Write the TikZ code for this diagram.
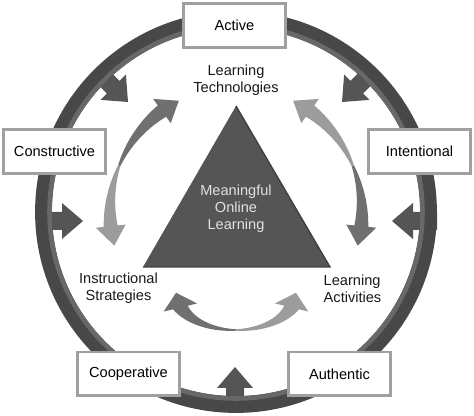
\documentclass[tikz,border=0pt]{standalone}
\usepackage{fontspec}
\setmainfont{Liberation Sans}
\usetikzlibrary{positioning}
\definecolor{ringgray}{RGB}{72,72,72}
\definecolor{ringlite}{RGB}{104,104,104}
\definecolor{boxgray}{RGB}{160,160,160}
\definecolor{coregray}{RGB}{85,85,85}
\definecolor{swdark}{RGB}{112,112,112}
\definecolor{swlite}{RGB}{156,156,156}
\tikzset{
  qualbox/.style={draw=boxgray, fill=white, line width=1.7pt,
                  minimum width=2.04cm, minimum height=0.88cm,
                  font=\fontsize{8.3}{9.6}\selectfont},
  cornerlbl/.style={align=center, font=\fontsize{8.3}{9.6}\selectfont, text=black!90},
  corelbl/.style={align=center, font=\fontsize{8.3}{9.6}\selectfont, text=black!12},
  blockarrow/.style={fill=coregray},
}
% block arrow: tip x, tip y, direction
\newcommand{\ringarrow}[3]{\fill[blockarrow, shift={(#1,#2)}, rotate=#3]
  (0,0) -- (-21,18) -- (-21,9) -- (-45,9) -- (-45,-9) -- (-21,-9) -- (-21,-18) -- cycle;}
% tapered curved arrow: from angle, to angle, colour, radius
\newcommand{\SH}{9}   % head length (deg)
\newcommand{\SW}{7}   % band half width at head
\newcommand{\SK}{15}  % head half width
\newcommand{\swoosh}[4]{%
  \pgfmathsetmacro{\hb}{#2-\SH*sign(#2-#1)}
  \fill[#3] plot[domain=0:1, samples=30] ({#1+\x*(\hb-#1)}:{#4+1.2+\x*(\SW-1.2)})
    -- (\hb:#4+\SK) -- (#2:#4) -- (\hb:#4-\SK)
    -- plot[domain=1:0, samples=30] ({#1+\x*(\hb-#1)}:{#4-1.2-\x*(\SW-1.2)}) -- cycle;}

\begin{document}
\begin{tikzpicture}[x=0.02cm, y=0.02cm]
  \useasboundingbox (0,0) rectangle (474,416);

  % arrows from the ring
  \ringarrow{128}{314}{-45}
  \ringarrow{342}{314}{-135}
  \ringarrow{83}{195}{0}
  \ringarrow{392}{195}{180}
  \ringarrow{235}{49}{90}

  % ring
  \coordinate (rc) at (236,204);
  \draw[ringgray, line width=9.6pt] (rc) circle (192.5);
  \draw[ringlite, line width=2.6pt] (rc) circle (186.5);

  % the five qualities
  \node[qualbox] (active)       at (234.5,390.5) {Active};
  \node[qualbox] (constructive) at (54.5,264.5)  {Constructive};
  \node[qualbox] (intentional)  at (419.5,264.5) {Intentional};
  \node[qualbox] (cooperative)  at (128.5,42)    {Cooperative};
  \node[qualbox] (authentic)    at (339.5,42)    {Authentic};

  % core triangle
  \coordinate (apex) at (236,310);
  \coordinate (bl) at (143,149);
  \coordinate (br) at (330,149);
  \fill[coregray] (apex) -- (bl) -- (br) -- cycle;
  \draw[black!75, line width=0.8pt] (bl) -- (br) -- (apex);
  \node[corelbl] (core) at (236,207) {Meaningful\\Online\\Learning};

  \node[cornerlbl] (tech)  at (236,335.5) {Learning\\Technologies};
  \node[cornerlbl] (strat) at (118.5,127.5) {Instructional\\Strategies};
  \node[cornerlbl, align=left] (activ) at (352.5,127.5) {Learning\\Activities};

  % curved arrows between corners
  \begin{scope}[shift={(236,203)}]
    \swoosh{158}{117}{swdark}{126}
    \swoosh{158}{195}{swlite}{126}
    \swoosh{22}{-15}{swdark}{126}
    \swoosh{22}{63}{swlite}{126}
  \end{scope}
  \begin{scope}[shift={(236,122)}, yscale=0.6]
    \renewcommand{\SH}{24}
    \renewcommand{\SW}{8}
    \renewcommand{\SK}{18}
    \swoosh{270}{178}{swdark}{60}
    \swoosh{270}{362}{swlite}{60}
  \end{scope}
\end{tikzpicture}
\end{document}
